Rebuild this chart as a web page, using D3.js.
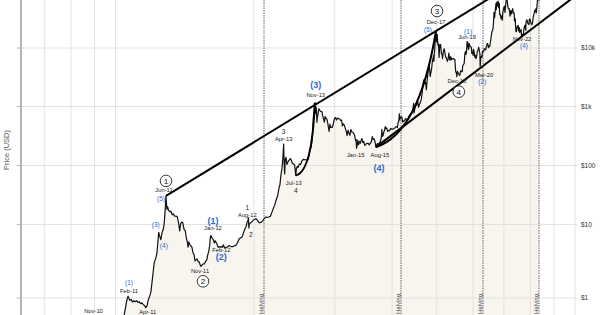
<!DOCTYPE html>
<html><head><meta charset="utf-8">
<script src="https://cdn.jsdelivr.net/npm/d3@7"></script>
<style>
body{margin:0;background:#fff}
svg{display:block}
text{font-family:"Liberation Sans",Arial,sans-serif}
</style></head>
<body><svg id="c" width="600" height="315"></svg>
<script>
// ---------------- DATA ----------------
const btcPrice = [
["2010-07-17",0.05],["2010-08-15",0.07],["2010-09-15",0.06],["2010-10-15",0.10],["2010-11-06",0.36],["2010-11-20",0.27],["2010-12-10",0.22],["2010-12-28",0.27],
["2011-01-10",0.32],["2011-01-24",0.41],["2011-02-02",0.70],["2011-02-06",0.90],["2011-02-10",1.06],["2011-02-13",0.98],["2011-02-16",0.93],["2011-02-19",0.96],["2011-02-23",0.88],["2011-02-27",0.92],["2011-03-03",0.89],["2011-03-07",0.92],["2011-03-11",0.87],["2011-03-15",0.89],["2011-03-19",0.84],["2011-03-23",0.86],["2011-03-27",0.82],["2011-03-31",0.79],["2011-04-04",0.74],["2011-04-08",0.78],["2011-04-12",0.95],["2011-04-16",1.05],["2011-04-20",1.20],["2011-04-24",1.70],["2011-04-28",2.40],["2011-05-01",3.10],["2011-05-05",3.40],["2011-05-09",4.00],["2011-05-12",5.50],["2011-05-15",7.80],["2011-05-18",7.00],["2011-05-22",6.20],["2011-05-26",7.80],["2011-05-30",8.60],["2011-06-02",10.5],["2011-06-05",17.0],["2011-06-08",30.5],["2011-06-10",23.0],["2011-06-12",18.0],["2011-06-15",20.0],["2011-06-19",17.5],["2011-06-24",16.5],["2011-06-29",16.8],["2011-07-05",14.6],["2011-07-10",15.2],["2011-07-16",13.8],["2011-07-22",13.9],["2011-07-28",13.5],["2011-08-03",10.5],["2011-08-08",8.2],["2011-08-12",10.3],["2011-08-17",11.0],["2011-08-22",10.8],["2011-08-28",8.6],["2011-09-03",8.2],["2011-09-08",6.5],["2011-09-12",5.9],["2011-09-16",4.9],["2011-09-20",5.8],["2011-09-25",5.3],["2011-09-30",5.1],["2011-10-05",4.9],["2011-10-10",4.1],["2011-10-15",3.9],["2011-10-20",3.2],["2011-10-25",3.3],["2011-10-30",3.4],["2011-11-05",3.1],["2011-11-10",3.1],["2011-11-15",2.8],["2011-11-19",2.7],["2011-11-24",2.8],["2011-11-29",2.9],["2011-12-04",2.9],["2011-12-09",3.0],["2011-12-14",3.2],["2011-12-19",3.3],["2011-12-24",3.9],["2011-12-29",4.3],
["2012-01-03",5.2],["2012-01-07",6.8],["2012-01-10",7.1],["2012-01-14",6.6],["2012-01-18",6.5],["2012-01-23",6.2],["2012-01-28",5.6],["2012-02-02",6.0],["2012-02-07",5.7],["2012-02-12",5.4],["2012-02-16",5.0],["2012-02-19",4.9],["2012-02-24",5.0],["2012-02-29",4.9],["2012-03-06",5.0],["2012-03-12",4.9],["2012-03-18",5.3],["2012-03-25",4.8],["2012-04-01",4.9],["2012-04-10",4.9],["2012-04-20",5.2],["2012-04-30",5.0],["2012-05-10",5.0],["2012-05-20",5.1],["2012-05-30",5.2],["2012-06-08",5.6],["2012-06-18",6.3],["2012-06-28",6.6],["2012-07-08",6.8],["2012-07-16",7.7],["2012-07-24",8.6],["2012-08-01",9.3],["2012-08-08",11.0],["2012-08-13",11.5],["2012-08-16",13.0],["2012-08-19",9.0],["2012-08-22",10.1],["2012-08-28",10.6],["2012-09-05",10.9],["2012-09-15",11.8],["2012-09-25",12.2],["2012-10-05",12.6],["2012-10-15",11.7],["2012-10-25",10.8],["2012-11-05",10.8],["2012-11-15",11.2],["2012-11-28",12.4],["2012-12-08",13.4],["2012-12-18",13.2],["2012-12-28",13.4],
["2013-01-08",13.7],["2013-01-18",15.9],["2013-01-28",18.8],["2013-02-07",21.5],["2013-02-17",26.5],["2013-02-27",31.0],["2013-03-07",41],["2013-03-14",47],["2013-03-21",69],["2013-03-28",89],["2013-04-03",130],["2013-04-09",230],["2013-04-12",115],["2013-04-16",72],["2013-04-20",125],["2013-04-26",138],["2013-05-02",104],["2013-05-10",116],["2013-05-18",123],["2013-05-26",131],["2013-06-03",122],["2013-06-11",108],["2013-06-19",106],["2013-06-27",101],["2013-07-05",68],["2013-07-10",88],["2013-07-16",96],["2013-07-23",93],["2013-07-31",106],["2013-08-10",104],["2013-08-20",119],["2013-08-30",127],["2013-09-10",125],["2013-09-20",126],["2013-10-01",120],["2013-10-08",127],["2013-10-15",148],["2013-10-22",190],["2013-10-29",196],["2013-11-05",240],["2013-11-10",320],["2013-11-14",425],["2013-11-18",690],["2013-11-21",720],["2013-11-25",820],["2013-11-29",1150],["2013-12-04",1150],["2013-12-07",760],["2013-12-10",990],["2013-12-14",880],["2013-12-18",540],["2013-12-22",650],["2013-12-28",740],
["2014-01-05",920],["2014-01-12",860],["2014-01-19",840],["2014-01-26",820],["2014-02-02",820],["2014-02-09",700],["2014-02-16",620],["2014-02-25",540],["2014-03-03",680],["2014-03-10",630],["2014-03-17",625],["2014-03-24",570],["2014-04-01",470],["2014-04-10",380],["2014-04-17",505],["2014-04-24",440],["2014-05-01",450],["2014-05-10",440],["2014-05-20",510],["2014-05-31",620],["2014-06-10",650],["2014-06-20",590],["2014-06-30",640],["2014-07-10",620],["2014-07-20",620],["2014-07-31",580],["2014-08-10",590],["2014-08-18",470],["2014-08-28",510],["2014-09-08",475],["2014-09-18",420],["2014-09-28",375],["2014-10-05",320],["2014-10-15",395],["2014-10-25",355],["2014-11-04",325],["2014-11-14",410],["2014-11-24",370],["2014-12-04",370],["2014-12-14",350],["2014-12-24",325],
["2015-01-04",265],["2015-01-10",275],["2015-01-14",195],["2015-01-20",215],["2015-01-27",270],["2015-02-05",225],["2015-02-15",255],["2015-02-25",238],["2015-03-08",275],["2015-03-15",285],["2015-03-25",245],["2015-04-05",255],["2015-04-15",220],["2015-04-25",225],["2015-05-05",235],["2015-05-15",237],["2015-05-25",238],["2015-06-05",224],["2015-06-15",236],["2015-06-25",243],["2015-07-05",270],["2015-07-12",310],["2015-07-22",277],["2015-08-01",282],["2015-08-10",265],["2015-08-18",230],["2015-08-24",205],["2015-09-01",228],["2015-09-12",235],["2015-09-22",230],["2015-10-03",238],["2015-10-13",248],["2015-10-23",278],["2015-11-01",325],["2015-11-04",410],["2015-11-11",310],["2015-11-20",325],["2015-11-30",378],["2015-12-08",395],["2015-12-16",455],["2015-12-26",420],
["2016-01-05",432],["2016-01-15",380],["2016-01-25",395],["2016-02-05",385],["2016-02-15",405],["2016-02-25",425],["2016-03-08",412],["2016-03-20",412],["2016-04-01",418],["2016-04-15",430],["2016-04-28",450],["2016-05-10",455],["2016-05-22",440],["2016-05-31",530],["2016-06-10",575],["2016-06-17",750],["2016-06-22",590],["2016-07-01",670],["2016-07-09",650],["2016-07-20",665],["2016-08-02",545],["2016-08-15",570],["2016-08-28",575],["2016-09-10",620],["2016-09-25",600],["2016-10-10",615],["2016-10-25",655],["2016-11-05",705],["2016-11-18",745],["2016-12-01",755],["2016-12-15",780],["2016-12-25",895],
["2017-01-04",1130],["2017-01-11",780],["2017-01-22",920],["2017-02-05",1030],["2017-02-20",1080],["2017-03-03",1270],["2017-03-18",970],["2017-03-31",1080],["2017-04-15",1180],["2017-04-30",1350],["2017-05-12",1700],["2017-05-25",2400],["2017-06-06",2850],["2017-06-15",2450],["2017-06-25",2550],["2017-07-05",2600],["2017-07-16",1930],["2017-07-25",2600],["2017-08-05",3250],["2017-08-16",4380],["2017-08-25",4350],["2017-09-01",4900],["2017-09-14",3250],["2017-09-24",3700],["2017-10-05",4300],["2017-10-20",6000],["2017-11-01",6750],["2017-11-08",7450],["2017-11-12",5900],["2017-11-20",8200],["2017-11-28",9900],["2017-12-07",16500],["2017-12-10",14000],["2017-12-17",19500],["2017-12-22",13800],["2017-12-30",12600],
["2018-01-06",17100],["2018-01-12",13900],["2018-01-17",11200],["2018-01-28",11700],["2018-02-06",6900],["2018-02-12",8900],["2018-02-20",11400],["2018-03-04",11500],["2018-03-18",7900],["2018-03-28",7900],["2018-04-06",6600],["2018-04-20",8900],["2018-05-05",9700],["2018-05-18",8200],["2018-05-28",7100],["2018-06-10",6800],["2018-06-28",5900],["2018-07-10",6400],["2018-07-24",8200],["2018-08-08",6300],["2018-08-14",6200],["2018-08-28",7100],["2018-09-10",6300],["2018-09-24",6600],["2018-10-10",6600],["2018-10-25",6400],["2018-11-08",6400],["2018-11-20",4500],["2018-11-25",3900],["2018-12-05",3800],["2018-12-15",3230],["2018-12-24",4000],
["2019-01-05",3800],["2019-01-20",3550],["2019-02-07",3400],["2019-02-24",4100],["2019-03-10",3930],["2019-03-25",3950],["2019-04-03",4900],["2019-04-18",5250],["2019-05-01",5400],["2019-05-14",8000],["2019-05-28",8700],["2019-06-06",7800],["2019-06-15",8700],["2019-06-26",12900],["2019-07-02",10600],["2019-07-10",12500],["2019-07-17",9700],["2019-07-28",9500],["2019-08-06",11900],["2019-08-20",10800],["2019-09-03",10600],["2019-09-18",10200],["2019-09-26",8100],["2019-10-10",8600],["2019-10-23",7500],["2019-10-27",9500],["2019-11-10",8800],["2019-11-25",7000],["2019-12-05",7500],["2019-12-18",6600],["2019-12-31",7200],
["2020-01-14",8800],["2020-01-31",9350],["2020-02-13",10300],["2020-02-27",8800],["2020-03-08",8000],["2020-03-12",4900],["2020-03-16",5000],["2020-03-24",6700],["2020-04-06",7300],["2020-04-20",6900],["2020-04-29",8800],["2020-05-11",8600],["2020-05-25",8800],["2020-06-08",9700],["2020-06-22",9600],["2020-07-06",9300],["2020-07-27",11000],["2020-08-10",11900],["2020-08-24",11700],["2020-09-05",10100],["2020-09-21",10900],["2020-10-05",10700],["2020-10-21",12800],["2020-11-05",15600],["2020-11-20",18700],["2020-12-01",19700],["2020-12-16",21300],["2020-12-27",26500],
["2021-01-08",40500],["2021-01-22",33000],["2021-02-08",46000],["2021-02-21",57500],["2021-02-28",45200],["2021-03-13",61000],["2021-03-25",52000],["2021-04-13",63500],["2021-04-25",49000],["2021-05-09",58000],["2021-05-19",37000],["2021-06-02",37500],["2021-06-21",31600],["2021-07-04",35300],["2021-07-20",29800],["2021-08-01",40000],["2021-08-14",47000],["2021-09-06",52000],["2021-09-21",40600],["2021-10-05",51500],["2021-10-20",66000],["2021-11-08",67500],["2021-11-20",59000],["2021-12-04",49000],["2021-12-20",46700],
["2022-01-03",46500],["2022-01-22",35000],["2022-02-10",43500],["2022-02-24",38300],["2022-03-28",47100],["2022-04-11",39500],["2022-05-04",39700],["2022-05-12",29000],["2022-05-31",31800],["2022-06-18",19000],["2022-07-03",19300],["2022-07-20",23200],["2022-08-14",24300],["2022-08-28",19600],["2022-09-12",22400],["2022-09-21",18500],["2022-10-10",19100],["2022-10-29",20800],["2022-11-09",15900],["2022-11-21",15800],["2022-12-05",17100],["2022-12-28",16500],
["2023-01-14",20900],["2023-02-01",23700],["2023-02-16",24500],["2023-03-10",20100],["2023-03-20",28000],["2023-04-13",30400],["2023-05-12",26300],["2023-06-15",25100],["2023-06-23",30700],["2023-07-13",31500],["2023-08-18",26100],["2023-09-11",25100],["2023-10-02",27500],["2023-10-24",34500],["2023-11-15",37900],["2023-12-08",44200],["2023-12-31",42300],
["2024-01-11",46600],["2024-01-23",39900],["2024-02-10",47800],["2024-02-28",62500],["2024-03-05",66000],["2024-03-14",73000],["2024-03-20",67800],["2024-04-08",71600],["2024-04-20",64900]
];
const halvingDates = ["2012-11-28","2016-07-09","2020-05-11","2024-04-20"];
const priceTicks = [1, 10, 100, 1000, 10000];
const priceTickLabels = ["$1", "$10", "$100", "$1k", "$10k"];
const timeGridTicks = [0.7, 0.8, 0.9, 1, 2, 3, 4, 5, 6, 7, 8, 9, 10];
const upperTrend = [["2011-06-08",30.5],["2017-12-17",19500]];
const lowerTrend = [["2015-08-24",205],["2022-11-21",15800]];
const arcs = [[["2013-07-05",68],["2013-11-29",1150]], [["2015-08-24",205],["2017-12-17",19500]]];
const noteText  = ["1","Jun-11","(5)","(3)","(4)","(1)","Feb-11","Apr-11","Nov-10","Nov-11","2","(1)","Jan-12","Feb-12","(2)","1","Aug-12","2","3","Apr-13","Jul-13","4","(3)","Nov-13","Jan-15","Aug-15","(4)","3","Dec-17","(5)","(1)","Jun-19","Dec-18","4","Mar-20","(2)","Nov-22","(4)"];
const noteDate  = ["2011-06-08","2011-06-08","2011-06-08","2011-05-15","2011-05-22","2011-02-10","2011-02-10","2011-04-04","2010-11-06","2011-11-19","2011-11-19","2012-01-10","2012-01-10","2012-02-19","2012-02-19","2012-08-16","2012-08-16","2012-08-19","2013-04-09","2013-04-09","2013-07-05","2013-07-05","2013-11-29","2013-11-29","2015-01-14","2015-08-24","2015-08-24","2017-12-17","2017-12-17","2017-12-17","2019-06-26","2019-06-26","2018-12-15","2018-12-15","2020-03-12","2020-03-12","2022-11-21","2022-11-21"];
const notePrice = [30.5,30.5,30.5,7.8,6.2,1.06,1.06,0.74,0.36,2.7,2.7,7.1,7.1,4.9,4.9,13,13,9,230,230,68,68,1150,1150,195,205,205,19500,19500,19500,12900,12900,3230,3230,4900,4900,15800,15800];

// ---------------- LAYOUT / STYLE ----------------
const W = 600, H = 315;
const noteLayout = [ // [dx, dy, kind]
 [0,-15,"circle"],[-2,-6,"date"],[-5,3,"bs"],[-3,-8,"bs"],[3,6,"bs"],[1,-13,"bs"],[1,-5,"date"],[2,4,"date"],[1,-19.5,"date"],[-1,5,"date"],[2,15,"circle"],
 [2,-15,"bl"],[2,-7,"date"],[3,3,"date"],[3,10,"bl"],[-1,-10,"num"],[-1,-3,"date"],[2,7,"num"],[0,-12,"num"],[0,-5,"date"],[-2,8,"date"],[0,15,"num"],
 [1,-18,"bl"],[1,-8,"date"],[-1,7,"date"],[4,8,"date"],[3,21,"bl"],[1,-20,"circle"],[0,-9,"date"],[-8,-1,"bs"],[1,-10,"bs"],[0,-5,"date"],
 [0,4,"date"],[2,15,"circle"],[4,9,"date"],[2,16,"bs"],[0,3,"date"],[2,9,"bs"]
];
const svg = d3.select("#c");
const parse = d3.utcParse("%Y-%m-%d");
const GEN = Date.UTC(2009, 0, 3);
const days = s => (parse(s) - GEN) / 864e5;

const xKnots = ["2011-02-10","2011-06-08","2012-11-28","2013-12-01","2016-07-09","2017-12-17","2020-05-11","2022-11-21","2024-04-20"];
const x = d3.scaleLog().domain(xKnots.map(days)).range([128,166,264,315,401,436,483,522,539]);
const y = d3.scaleLog().domain(priceTicks).range([298,224.5,165.5,106.5,48]);
const gx = d3.scaleLog().domain([1,10]).range([115.5,575]);
const X = s => x(days(s));

// shaded area
svg.append("path").datum(btcPrice)
  .attr("d", d3.area().x(d => X(d[0])).y0(H + 20).y1(d => y(d[1])))
  .attr("fill", "#f8f4ee");

// vertical grid
svg.append("g").selectAll("line").data(timeGridTicks).join("line")
  .attr("x1", d => gx(d)).attr("x2", d => gx(d)).attr("y1", 0).attr("y2", H)
  .attr("stroke", "#e2e2e2").attr("stroke-width", 1);
// horizontal grid
svg.append("g").selectAll("line").data(priceTicks).join("line")
  .attr("x1", 21).attr("x2", 577).attr("y1", d => y(d)).attr("y2", d => y(d))
  .attr("stroke", "#e2e2e2").attr("stroke-width", 1);
// left axis
svg.append("line").attr("x1", 21).attr("x2", 21).attr("y1", 0).attr("y2", H)
  .attr("stroke", "#b4b4b4").attr("stroke-width", 2);
svg.append("g").selectAll("line").data(priceTicks).join("line")
  .attr("x1", 17).attr("x2", 21).attr("y1", d => y(d)).attr("y2", d => y(d))
  .attr("stroke", "#b4b4b4").attr("stroke-width", 1);
svg.append("text").attr("transform", "translate(9,150) rotate(-90)")
  .attr("text-anchor", "middle").attr("font-size", 7.5).attr("fill", "#555").text("Price (USD)");
// right labels
svg.append("g").selectAll("text").data(priceTicks).join("text")
  .attr("x", 581).attr("y", d => y(d)).attr("dy", "0.35em")
  .attr("font-size", 6.5).attr("fill", "#333").text((d, i) => priceTickLabels[i]);

// halvings
const hv = svg.append("g");
hv.selectAll("line").data(halvingDates).join("line")
  .attr("x1", d => X(d)).attr("x2", d => X(d)).attr("y1", 0).attr("y2", H)
  .attr("stroke", "#666").attr("stroke-width", 1).attr("stroke-dasharray", "1.5,1");
hv.selectAll("text").data(halvingDates).join("text")
  .attr("transform", d => `translate(${X(d) - 1},314) rotate(-90)`)
  .attr("font-size", 6).attr("fill", "#444").text("Halving");

// price line
svg.append("path").datum(btcPrice)
  .attr("d", d3.line().x(d => X(d[0])).y(d => y(d[1])))
  .attr("fill", "none").attr("stroke", "#111").attr("stroke-width", 1.2).attr("stroke-linejoin", "round");

// trend lines (extended in pixel space)
function trend(pts, xEnd) {
  const p0 = [X(pts[0][0]), y(pts[0][1])], p1 = [X(pts[1][0]), y(pts[1][1])];
  const m = (p1[1] - p0[1]) / (p1[0] - p0[0]);
  svg.append("line").attr("x1", p0[0]).attr("y1", p0[1])
    .attr("x2", xEnd).attr("y2", p0[1] + m * (xEnd - p0[0]))
    .attr("stroke", "#000").attr("stroke-width", 2);
}
trend(upperTrend, 620);
trend(lowerTrend, 620);
// arcs (quadratic bezier)
const arcBend = [[0.86, 0.05], [0.72, 0.12]];
arcs.forEach((a, i) => {
  const p0 = [X(a[0][0]), y(a[0][1])], p1 = [X(a[1][0]), y(a[1][1])];
  const c = [p0[0] + arcBend[i][0] * (p1[0] - p0[0]), p0[1] - arcBend[i][1] * (p0[1] - p1[1])];
  const p = d3.path(); p.moveTo(p0[0], p0[1]); p.quadraticCurveTo(c[0], c[1], p1[0], p1[1]);
  svg.append("path").attr("d", p.toString()).attr("fill", "none").attr("stroke", "#000").attr("stroke-width", 2);
});

// annotations
const ng = svg.append("g");
noteText.forEach((t, i) => {
  const [dx, dy, kind] = noteLayout[i];
  const px = X(noteDate[i]) + dx, py = y(notePrice[i]) + dy;
  if (kind === "circle") {
    ng.append("circle").attr("cx", px).attr("cy", py).attr("r", 5.8)
      .attr("fill", "#fff").attr("stroke", "#222").attr("stroke-width", 0.9);
    ng.append("text").attr("x", px).attr("y", py).attr("dy", "0.36em").attr("text-anchor", "middle")
      .attr("font-size", 8).attr("fill", "#111").text(t);
  } else {
    const st = {date: [5.8, "#222", 400], num: [6.5, "#222", 400], bs: [6.5, "#2f6bd0", 400], bl: [9, "#2f6bd0", 700]}[kind];
    ng.append("text").attr("x", px).attr("y", py).attr("dy", "0.35em").attr("text-anchor", "middle")
      .attr("font-size", st[0]).attr("fill", st[1]).attr("font-weight", st[2]).text(t);
  }
});
</script></body></html>
